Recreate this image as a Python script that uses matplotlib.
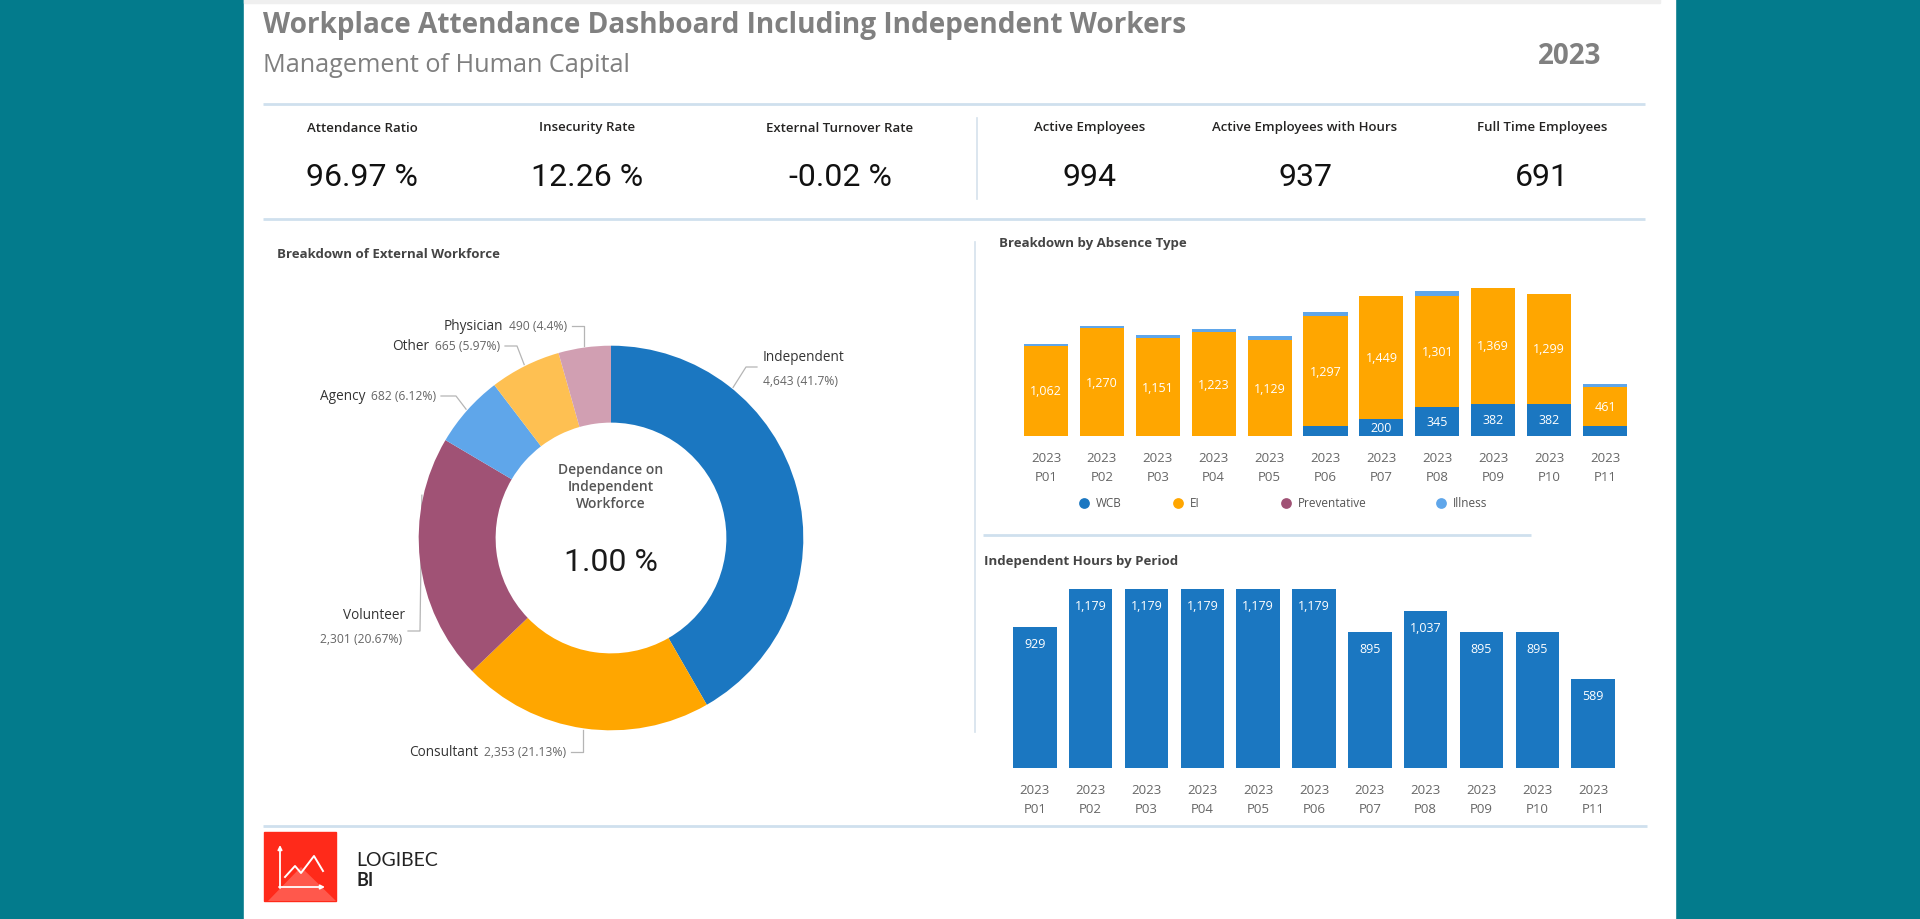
import numpy as np
import matplotlib
matplotlib.use("Agg")
import matplotlib.pyplot as plt
from matplotlib.patches import Rectangle, Polygon

plt.rcParams['font.family'] = ['Open Sans', 'DejaVu Sans']

W, H = 1920, 920

# ---- data
kpi_labels = ["Attendance Ratio", "Insecurity Rate", "External Turnover Rate",
              "Active Employees", "Active Employees with Hours", "Full Time Employees"]
kpi_values = ["96.97 %", "12.26 %", "-0.02 %", "994", "937", "691"]

workforce_types = ["Independent", "Consultant", "Volunteer", "Agency", "Other", "Physician"]
workforce_counts = [4643, 2353, 2301, 682, 665, 490]
workforce_pcts = ["41.7%", "21.13%", "20.67%", "6.12%", "5.97%", "4.4%"]
dependance = "1.00 %"

periods = ["2023\nP%02d" % i for i in range(1, 12)]
absence_types = ["WCB", "EI", "Preventative", "Illness"]
wcb = [0, 0, 0, 0, 0, 118, 200, 345, 382, 382, 118]
ei = [1062, 1270, 1151, 1223, 1129, 1297, 1449, 1301, 1369, 1299, 461]
preventative = [0, 0, 0, 0, 0, 0, 0, 0, 0, 0, 0]
illness = [20, 31, 43, 39, 47, 51, 0, 59, 0, 0, 31]

indep_hours = [929, 1179, 1179, 1179, 1179, 1179, 895, 1037, 895, 895, 589]

# ---- colours
teal = '#037B8C'
blue = '#1B77C1'
orange = '#FFA600'
maroon = '#A05275'
light_blue = '#5FA6EA'
light_orange = '#FEC052'
pink = '#D19FB2'
line_col = '#CFE0EE'
workforce_colors = [blue, orange, maroon, light_blue, light_orange, pink]
absence_colors = [blue, orange, maroon, light_blue]


def px_axes(x0, y0, x1, y1):
    # axes placed by pixel box (top-left origin)
    ax = fig.add_axes([x0 / W, 1 - y1 / H, (x1 - x0) / W, (y1 - y0) / H])
    ax.patch.set_alpha(0)
    return ax


fig = plt.figure(figsize=(W / 100, H / 100), dpi=100, facecolor=teal)

# overlay in pixel coords for panel, texts and rules
bg = fig.add_axes([0, 0, 1, 1])
bg.set_xlim(0, W)
bg.set_ylim(H, 0)
bg.axis('off')
bg.add_patch(Rectangle((244, 0), 1431, H, color='white', zorder=0))
bg.add_patch(Rectangle((244, 0), 1416, 4, color='#EFEFEF', zorder=0))

title = bg.text(263, 25, "Workplace Attendance Dashboard Including Independent Workers",
                fontsize=19, fontweight='bold', color='#808080', va='center')
subtitle = bg.text(263, 65, "Management of Human Capital", fontsize=15,
                   color='#7F7F7F', va='center')
bg.text(1570, 56, "2023", fontsize=20, fontweight='bold', color='#808080',
        ha='center', va='center')

for y, xa, xb in [(105, 263, 1645), (220, 263, 1645), (536, 983, 1531), (827, 263, 1647)]:
    bg.plot([xa, xb], [y, y], color=line_col, lw=2, solid_capstyle='butt')
bg.plot([977, 977], [119, 200], color='#D5E2EC', lw=1.2)
bg.plot([975, 975], [243, 733], color='#D5E2EC', lw=1.2)

# ---- KPI cards
kpi_x = [362, 587, 840, 1090, 1305, 1542]
for xc, lab, val in zip(kpi_x, kpi_labels, kpi_values):
    bg.text(xc, 128, lab, fontsize=9.5, fontweight='semibold', color='#252423',
            ha='center', va='center')
    bg.text(xc, 177, val, fontsize=23, family=['Roboto', 'DejaVu Sans'],
            color='#111111', ha='center', va='center')

# ---- donut
cx, cy, R = 611, 539, 192
bg.text(277, 255, "Breakdown of External Workforce", fontsize=9.5,
        fontweight='bold', color='#444444', va='center')
axd = px_axes(cx - 250, cy - 250, cx + 250, cy + 250)
wedges, _ = axd.pie(workforce_counts, colors=workforce_colors, startangle=90,
                    counterclock=False, radius=1,
                    wedgeprops=dict(width=0.4, linewidth=0))
axd.set_xlim(-1.3, 1.3)
axd.set_ylim(-1.3, 1.3)
axd.set_aspect('equal')

# label layout: where along the wedge the leader starts, elbow, text anchor
label_layout = {
    "Independent": dict(frac=0.26, elbow=(746, 368), end=(757, 368), text=(763, 358), two=True, ha='left'),
    "Consultant": dict(frac=0.5, elbow=None, end=(571, 753), text=(566, 753), two=False, ha='right'),
    "Volunteer": dict(frac=0.76, elbow=(420, 632), end=(408, 632), text=(405, 616), two=True, ha='right'),
    "Agency": dict(frac=0.5, elbow=(456, 397), end=(441, 397), text=(436, 397), two=False, ha='right'),
    "Other": dict(frac=0.5, elbow=(517, 347), end=(505, 347), text=(500, 347), two=False, ha='right'),
    "Physician": dict(frac=0.5, elbow=None, end=(572, 327), text=(567, 327), two=False, ha='right'),
}
for w, name, cnt, pct in zip(wedges, workforce_types, workforce_counts, workforce_pcts):
    lay = label_layout[name]
    a = np.deg2rad(w.theta2 - lay['frac'] * (w.theta2 - w.theta1))
    sx, sy = cx + R * 1.01 * np.cos(a), cy - R * 1.01 * np.sin(a)
    ex, ey = lay['end']
    elbow = lay['elbow'] if lay['elbow'] is not None else (sx, ey)
    bg.plot([sx, elbow[0], ex], [sy, elbow[1], ey], color='#B5B5B5', lw=0.9)
    val = f"{cnt:,} ({pct})"
    tx, ty = lay['text']
    if lay['two']:
        bg.text(tx, ty, name, fontsize=9.8, color='#333333', ha=lay['ha'], va='center')
        bg.text(tx - (3 if lay['ha'] == 'right' else 0), ty + 24, val, fontsize=8.7,
                color='#666666', ha=lay['ha'], va='center')
    else:
        vt = bg.text(tx, ty, val, fontsize=8.7, color='#666666', ha='right', va='center')
        bg.annotate(name, xy=(0, 0.5), xycoords=vt, xytext=(-4, 0),
                    textcoords='offset points', fontsize=9.8, color='#333333',
                    ha='right', va='center')

bg.text(cx, 487, "Dependance on\nIndependent\nWorkforce", fontsize=10,
        fontweight='semibold', color='#555555', ha='center', va='center',
        linespacing=1.3)
bg.text(cx, 563, dependance, fontsize=23, family=['Roboto', 'DejaVu Sans'],
        color='#1A1A1A', ha='center', va='center')

# ---- stacked absence bars
bg.text(999, 244, "Breakdown by Absence Type", fontsize=9.5, fontweight='bold',
        color='#444444', va='center')
ax1 = px_axes(1018, 280.2, 1633, 437)
x = np.arange(len(periods))
bottom = np.zeros(len(periods))
for name, vals, col in zip(absence_types, [wcb, ei, preventative, illness], absence_colors):
    vals = np.array(vals, dtype=float)
    ax1.bar(x, vals, width=0.79, bottom=bottom, color=col, linewidth=0)
    for xi, b, v in zip(x, bottom, vals):
        if v >= 150:
            ax1.text(xi, b + v / 2, f"{int(v):,}", ha='center', va='center',
                     color='white', fontsize=9)
    bottom += vals
ax1.set_xlim(-0.5, 10.5)
ax1.set_ylim(0, 1850)

legend_x = [1084, 1178, 1286, 1441]
for lx, name, col in zip(legend_x, absence_types, absence_colors):
    bg.scatter([lx], [504], s=60, color=col, linewidths=0)
    bg.text(lx + 12, 504, name, fontsize=8.5, color='#555555', va='center')

# ---- independent hours bars
bg.text(984, 562, "Independent Hours by Period", fontsize=9.5, fontweight='bold',
        color='#444444', va='center')
ax2 = px_axes(1007, 579.3, 1621, 769)
ax2.bar(x, indep_hours, width=0.78, color=blue, linewidth=0)
for xi, v in zip(x, indep_hours):
    ax2.annotate(f"{v:,}", xy=(xi, v), xytext=(0, -12), textcoords='offset points',
                 ha='center', va='center', color='white', fontsize=9)
ax2.set_xlim(-0.5, 10.5)
ax2.set_ylim(0, 1250)

for ax in (ax1, ax2):
    ax.set_xticks(x, periods)
    ax.set_yticks([])
    ax.tick_params(axis='x', length=0, pad=11, labelsize=9.5, labelcolor='#666666')
    for t in ax.get_xticklabels():
        t.set_linespacing(1.6)
    for s in ax.spines.values():
        s.set_visible(False)

# ---- logo
bg.add_patch(Rectangle((264, 833), 72, 69, color='#FF2A1A', zorder=2))
bg.add_patch(Polygon([(268, 902), (301, 868), (336, 902)], closed=True,
                     color='white', alpha=0.22, lw=0, zorder=3))
bg.annotate("", xy=(280, 846), xytext=(280, 889),
            arrowprops=dict(arrowstyle='-|>', color='white', lw=1.3,
                            mutation_scale=6, shrinkA=0, shrinkB=0), zorder=4)
bg.annotate("", xy=(325, 888), xytext=(279, 888),
            arrowprops=dict(arrowstyle='-|>', color='white', lw=1.3,
                            mutation_scale=6, shrinkA=0, shrinkB=0), zorder=4)
bg.plot([285, 295, 301, 314, 323], [878, 867, 874, 857, 872], color='white',
        lw=1.4, zorder=4)
bg.text(356, 861, "LOGIBEC", fontsize=14, family=['Lato', 'DejaVu Sans'],
        color='#222222', va='center')
bg.text(356, 881, "BI", fontsize=13, family=['Lato', 'DejaVu Sans'],
        fontweight='bold', color='#222222', va='center')

# fit the header texts to the widths seen in the reference
fig.canvas.draw()
r = fig.canvas.get_renderer()
for t, width in [(title, 921), (subtitle, 367)]:
    t.set_fontsize(t.get_fontsize() * width / t.get_window_extent(r).width)

fig.savefig("out.png", dpi=100, facecolor=teal)
